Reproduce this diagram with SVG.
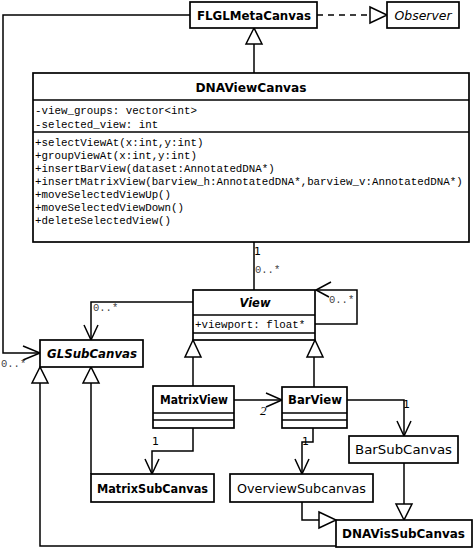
<svg xmlns="http://www.w3.org/2000/svg" width="474" height="559" viewBox="0 0 474 559">
<style>
.box{fill:#fff;stroke:#000;stroke-width:1.7}
.sep{stroke:#000;stroke-width:1.5}
.ln{fill:none;stroke:#000;stroke-width:1.5}
.tri{fill:#fff;stroke:#000;stroke-width:1.5}
.nm{font-family:"DejaVu Sans",sans-serif;font-size:11.5px;font-weight:bold;text-anchor:middle;fill:#000}
.nr{font-family:"DejaVu Sans",sans-serif;font-size:12.5px;text-anchor:middle;fill:#000}
.it{font-style:italic}
.mono{font-family:"Liberation Mono",monospace;font-size:10.8px;fill:#000}
.mult{font-family:"Liberation Mono",monospace;font-size:10.5px;fill:#444}
.one{font-family:"DejaVu Sans",sans-serif;font-size:11px;fill:#000}
</style>
<rect width="474" height="559" fill="#fff"/>
<g id="connectors">
  <line class="ln" x1="317" y1="15" x2="370" y2="15" stroke-dasharray="6,5"/>
  <polygon class="tri" points="370,7 387,15 370,23"/>
  <line class="ln" x1="254" y1="44" x2="254" y2="73"/>
  <polygon class="tri" points="254,28 246,44 262,44"/>
  <polyline class="ln" points="190,15 3,15 3,353 40,353"/>
  <polyline class="ln" points="23,346 40,353 23,360"/>
  <text class="mult" x="1" y="367">0..*</text>
  <line class="ln" x1="254" y1="242" x2="254" y2="290"/>
  <text class="one" x="254" y="255">1</text>
  <text class="mult" x="255" y="273">0..*</text>
  <polyline class="ln" points="315,324 357,324 357,290 316,290"/>
  <polyline class="ln" points="331,282 316,290 329,297"/>
  <text class="mult" x="329" y="303">0..*</text>
  <polyline class="ln" points="193,302 91,302 91,340"/>
  <polyline class="ln" points="84,325 91,340 98,325"/>
  <text class="mult" x="93" y="311">0..*</text>
  <line class="ln" x1="193" y1="357" x2="193" y2="386"/>
  <polygon class="tri" points="193,340 185,357 201,357"/>
  <line class="ln" x1="314" y1="357" x2="314" y2="387"/>
  <polygon class="tri" points="315,340 307,357 323,357"/>
  <polygon class="tri" points="40,367 32,383 48,383"/>
  <polyline class="ln" points="40,383 40,546 336,546"/>
  <polygon class="tri" points="91,367 83,383 99,383"/>
  <line class="ln" x1="91" y1="383" x2="91" y2="474"/>
  <line class="ln" x1="234" y1="400" x2="282" y2="400"/>
  <polyline class="ln" points="266,393 282,400 266,407"/>
  <text x="260" y="415" font-family="Liberation Serif,serif" font-style="italic" font-size="13px" fill="#000">2</text>
  <polyline class="ln" points="193,428 193,451 152,451 152,474"/>
  <polyline class="ln" points="145,459 152,474 159,459"/>
  <text class="one" x="152" y="445">1</text>
  <polyline class="ln" points="313,428 313,442 302,442 302,474"/>
  <polyline class="ln" points="295,459 302,474 309,459"/>
  <text class="one" x="302" y="445">1</text>
  <polyline class="ln" points="347,400 404,400 404,436"/>
  <polyline class="ln" points="397,421 404,436 411,421"/>
  <text class="one" x="403" y="408">1</text>
  <line class="ln" x1="404" y1="463" x2="404" y2="504"/>
  <polygon class="tri" points="404,520 396,504 412,504"/>
  <polyline class="ln" points="302,502 302,520 319,520"/>
  <polygon class="tri" points="319,512 336,520 319,528"/>
</g>
<g id="FLGLMetaCanvas">
  <rect class="box" x="190" y="2" width="127" height="26"/>
  <text class="nm" x="254" y="20" textLength="114" lengthAdjust="spacingAndGlyphs">FLGLMetaCanvas</text>
</g>
<g id="Observer">
  <rect class="box" x="387" y="2" width="72" height="26"/>
  <text class="nr it" x="423" y="20" font-size="12px" textLength="57" lengthAdjust="spacingAndGlyphs">Observer</text>
</g>
<g id="DNAViewCanvas">
  <rect class="box" x="33" y="73" width="436" height="169"/>
  <line class="sep" x1="33" y1="100" x2="469" y2="100"/>
  <line class="sep" x1="33" y1="132" x2="469" y2="132"/>
  <text class="nm" x="251" y="92" textLength="111" lengthAdjust="spacingAndGlyphs">DNAViewCanvas</text>
  <text class="mono" x="35" y="114">-view_groups: vector&lt;int&gt;</text>
  <text class="mono" x="35" y="128">-selected_view: int</text>
  <text class="mono" x="35" y="146">+selectViewAt(x:int,y:int)</text>
  <text class="mono" x="35" y="159">+groupViewAt(x:int,y:int)</text>
  <text class="mono" x="35" y="172">+insertBarView(dataset:AnnotatedDNA*)</text>
  <text class="mono" x="35" y="185">+insertMatrixView(barview_h:AnnotatedDNA*,barview_v:AnnotatedDNA*)</text>
  <text class="mono" x="35" y="198">+moveSelectedViewUp()</text>
  <text class="mono" x="35" y="211">+moveSelectedViewDown()</text>
  <text class="mono" x="35" y="224">+deleteSelectedView()</text>
</g>
<g id="View">
  <rect class="box" x="193" y="290" width="122" height="50"/>
  <line class="sep" x1="193" y1="315" x2="315" y2="315"/>
  <line class="sep" x1="193" y1="333" x2="315" y2="333"/>
  <text class="nm it" x="255" y="307">View</text>
  <text class="mono" x="195" y="328">+viewport: float*</text>
</g>
<g id="GLSubCanvas">
  <rect class="box" x="40" y="340" width="103" height="27"/>
  <text class="nm it" x="92" y="358" font-size="12.5px" textLength="90" lengthAdjust="spacingAndGlyphs">GLSubCanvas</text>
</g>
<g id="MatrixView">
  <rect class="box" x="153" y="386" width="81" height="42"/>
  <line class="sep" x1="153" y1="413" x2="234" y2="413"/>
  <line class="sep" x1="153" y1="420" x2="234" y2="420"/>
  <text class="nm" x="194" y="404" textLength="68" lengthAdjust="spacingAndGlyphs">MatrixView</text>
</g>
<g id="BarView">
  <rect class="box" x="282" y="387" width="65" height="41"/>
  <line class="sep" x1="282" y1="413" x2="347" y2="413"/>
  <line class="sep" x1="282" y1="420" x2="347" y2="420"/>
  <text class="nm" x="315" y="404" textLength="54" lengthAdjust="spacingAndGlyphs">BarView</text>
</g>
<g id="MatrixSubCanvas">
  <rect class="box" x="91" y="474" width="123" height="28"/>
  <text class="nm" x="152.5" y="493" textLength="111" lengthAdjust="spacingAndGlyphs">MatrixSubCanvas</text>
</g>
<g id="OverviewSubcanvas">
  <rect class="box" x="230" y="474" width="143" height="28"/>
  <text class="nr" x="301.5" y="493" textLength="129" lengthAdjust="spacingAndGlyphs">OverviewSubcanvas</text>
</g>
<g id="BarSubCanvas">
  <rect class="box" x="349" y="436" width="109" height="27"/>
  <text class="nr" x="403.5" y="454" textLength="97" lengthAdjust="spacingAndGlyphs">BarSubCanvas</text>
</g>
<g id="DNAVisSubCanvas">
  <rect class="box" x="336" y="520" width="136" height="27"/>
  <text class="nm" x="403.5" y="538" textLength="123" lengthAdjust="spacingAndGlyphs">DNAVisSubCanvas</text>
</g>
</svg>
